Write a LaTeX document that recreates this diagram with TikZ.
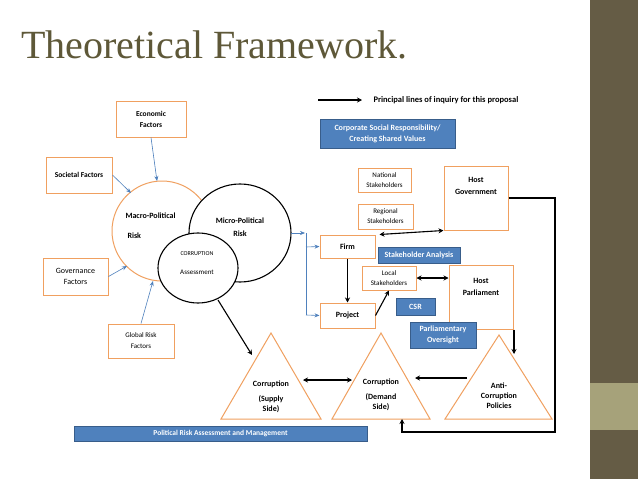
\documentclass[tikz,border=0pt]{standalone}
\usepackage{fontspec}
\setmainfont{Carlito}
\newfontfamily\titlefont{Liberation Serif}
\usetikzlibrary{arrows.meta}
\definecolor{olive}{HTML}{655C45}
\definecolor{olivel}{HTML}{A6A27A}
\definecolor{titlec}{HTML}{5E5838}
\definecolor{orng}{HTML}{F0A060}
\definecolor{bfill}{HTML}{4F81BD}
\definecolor{bdraw}{HTML}{385D8A}
\tikzset{
 ob/.style={draw=orng,line width=1pt,fill=white,align=center,inner sep=1pt,font=\fontsize{8}{11}\selectfont},
 bb/.style={draw=bdraw,fill=bfill,text=white,align=center,inner sep=1pt,font=\bfseries\fontsize{8}{11}\selectfont},
 ba/.style={-{Stealth[length=5pt,width=4pt]},draw=bfill,line width=0.6pt},
 ka/.style={-{Stealth[length=5pt,width=5pt]},line width=1.1pt},
 kd/.style={{Stealth[length=5pt,width=5pt]}-{Stealth[length=5pt,width=5pt]},line width=1.1pt},
 tx/.style={font=\bfseries\fontsize{8}{10}\selectfont,align=center},
 tri/.style={draw=orng,line width=1pt,fill=white,line join=miter}
}
\begin{document}
\begin{tikzpicture}[x=1pt,y=-1pt]
\useasboundingbox (0,0) rectangle (638,479);
\fill[white] (0,0) rectangle (638,479);
\fill[olive] (590,0) rectangle (638,479);
\fill[olivel] (590,383) rectangle (638,430);
\node[anchor=west,text=titlec,inner sep=0pt,font=\titlefont\fontsize{40}{44}\selectfont] (title) at (21,45) {Theoretical Framework.};
% circles
\draw[orng,line width=1pt,fill=white] (162,231) circle (50);
\node[tx,anchor=west] (macro) at (122,216) {Macro-Political};
\node[tx,anchor=west] (macror) at (124,236) {Risk};
\draw[line width=1.1pt,fill=white] (240,233) ellipse (51 and 49);
\node[tx] (micro) at (240,227) {Micro-Political\\[3pt]Risk};
\draw[line width=1.1pt,fill=white] (198,268) ellipse (40 and 35);
\node[tx,font=\fontsize{6}{7}\selectfont] (corr) at (197,254) {CORRUPTION};
\node[tx,font=\fontsize{7}{8}\selectfont] (assess) at (197,272) {Assessment};
\coordinate (macroN) at (157,181);
\coordinate (macroNW) at (131,193);
\coordinate (macroW) at (127,266);
\coordinate (macroS) at (153,281);
\coordinate (corrS) at (218,300);
\coordinate (microE) at (305,233);
% factor boxes
\node[ob,font=\bfseries\fontsize{7.5}{11}\selectfont,minimum width=70pt,minimum height=36pt] (eco) at (151,119) {Economic\\Factors};
\node[ob,font=\bfseries\fontsize{7.5}{11}\selectfont,minimum width=66pt,minimum height=36pt] (soc) at (79,175) {Societal Factors};
\node[ob,minimum width=65pt,minimum height=37pt] (gov) at (75.5,276.5) {Governance\\Factors};
\node[ob,font=\fontsize{7}{11}\selectfont,minimum width=66pt,minimum height=34pt] (glob) at (141,341) {Global Risk\\Factors};
\draw[ba] (eco.south) -- (macroN);
\draw[ba] (soc.east) -- (macroNW);
\draw[ba] (gov.east) -- (macroW);
\draw[ba] (glob.north) -- (macroS);
% right side
\coordinate (lg1) at (318,100); \coordinate (lg2) at (362,100);
\draw[ka] (lg1) -- (lg2);
\node[tx,anchor=west,font=\bfseries\fontsize{8.5}{9}\selectfont] (legend) at (370,100) {Principal lines of inquiry for this proposal};
\node[bb,minimum width=135pt,minimum height=29pt] (csv) at (387.5,133.5) {Corporate Social Responsibility/\\Creating Shared Values};
\node[ob,font=\fontsize{7}{10}\selectfont,minimum width=53pt,minimum height=24pt] (nat) at (384.5,180) {National\\Stakeholders};
\node[ob,font=\fontsize{7}{10}\selectfont,minimum width=55pt,minimum height=25pt] (reg) at (385.5,216.5) {Regional\\Stakeholders};
\node[ob,font=\bfseries\fontsize{8}{12}\selectfont,minimum width=64pt,minimum height=64pt] (hgov) at (476,198) {Host\\Government\\[12pt]};
\node[ob,font=\bfseries\fontsize{8}{9}\selectfont,minimum width=55pt,minimum height=23pt] (firm) at (347.5,246.5) {Firm};
\node[bb,minimum width=82pt,minimum height=16pt] (sta) at (419,255) {Stakeholder Analysis};
\node[ob,font=\fontsize{7}{10}\selectfont,minimum width=54pt,minimum height=24pt] (loc) at (389,278) {Local\\Stakeholders};
\node[ob,draw=orng,font=\bfseries\fontsize{8}{12}\selectfont,minimum width=64pt,minimum height=64pt] (parl) at (481,297) {Host\\Parliament\\[8pt]};
\node[ob,font=\bfseries\fontsize{8}{9}\selectfont,minimum width=55pt,minimum height=25pt] (proj) at (347.5,315.5) {Project};
\node[bb,minimum width=39pt,minimum height=17pt] (csr) at (415.5,306.5) {CSR};
\node[bb,minimum width=66pt,minimum height=26pt] (po) at (443,335) {Parliamentary\\Oversight};
\node[bb,font=\bfseries\fontsize{7.5}{9}\selectfont,minimum width=293pt,minimum height=15pt] (prm) at (220.5,433.5) {Political Risk Assessment and Management};
% blue bracket from micro
\coordinate (mic) at (291,233);
\coordinate (brT) at (306,233); \coordinate (brB) at (306,315);
\draw[ba] (mic) -- (microE);
\draw[draw=bfill,line width=0.6pt] (brT) -- (brB);
\draw[ba] (306,247) -- (firm.west);
\draw[ba] (brB) -- (proj.west);
% black arrows
\draw[kd] (firm.north east) ++(4,0) -- (hgov.south west);
\draw[ka] (firm.south) -- (proj.north);
\draw[ka] (proj.east) -- (loc.south);
\draw[kd] (loc.east) -- (parl.west |- loc.east);
% triangles
\coordinate (s1) at (221,419); \coordinate (s2) at (321,419); \coordinate (s3) at (271,333);
\coordinate (d1) at (332,419); \coordinate (d2) at (430,419); \coordinate (d3) at (381,333);
\coordinate (a1) at (445,419); \coordinate (a2) at (552,419); \coordinate (a3) at (499,335);
\draw[tri] (s1) -- (s2) -- (s3) -- cycle;
\draw[tri] (d1) -- (d2) -- (d3) -- cycle;
\draw[tri] (a1) -- (a2) -- (a3) -- cycle;
\node[tx] (sup) at (271,397) {Corruption\\[5pt](Supply\\Side)};
\node[tx] (dem) at (381,395) {Corruption\\[5pt](Demand\\Side)};
\node[tx] (anti) at (499,396) {Anti-\\Corruption\\Policies};
\coordinate (sL) at (252,355);
\coordinate (sR) at (303,380); \coordinate (dL) at (352,380);
\coordinate (dR) at (415,378); \coordinate (aL) at (467,378);
\coordinate (aT) at (514,354);
\coordinate (dB) at (402,419);
\draw[ka] (corrS) -- (sL);
\draw[kd] (sR) -- (dL);
\draw[ka] (aL) -- (dR);
\draw[ka] (parl.south -| aT) -- (aT);
\draw[ka] (hgov.east) -| (555,432) -| (dB);
\end{tikzpicture}
\end{document}
